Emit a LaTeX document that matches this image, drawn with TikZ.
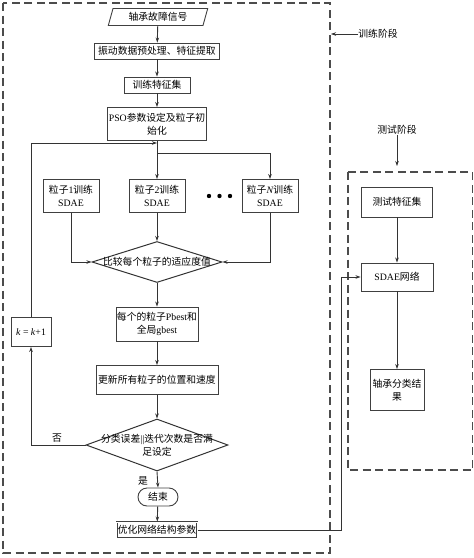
\documentclass[tikz,border=0pt]{standalone}
\usepackage{fontspec}
\setmainfont{Liberation Serif}
\newfontfamily\cjk{Noto Sans CJK SC}
\newfontfamily\enfont{Liberation Serif}
\newcommand{\en}[1]{{\enfont #1}}
\usetikzlibrary{positioning, calc, arrows.meta, shapes.geometric}

\tikzset{
    flowbox/.style={draw=black!75, line width=0.9pt, fill=white, inner sep=1pt, align=center,
        font=\cjk\fontsize{9.8}{13}\selectfont},
    dec/.style={diamond, draw=black!80, line width=1pt, inner sep=0pt},
    iobox/.style={flowbox, trapezium, trapezium left angle=74, trapezium right angle=106, trapezium stretches=true},
    termbox/.style={flowbox, rounded corners=9pt},
    txt/.style={font=\cjk\fontsize{9.8}{13}\selectfont, align=center, inner sep=0pt},
    arr/.style={-{Stealth[length=5pt,width=3.5pt]}, line width=0.9pt, draw=black!80},
    phase/.style={draw=black!70, dash pattern=on 8pt off 4.5pt, line width=1.2pt}
}

\begin{document}
\begin{tikzpicture}[x=1pt, y=-1pt]
    \useasboundingbox (0,0) rectangle (474,558);

    % training phase
    \draw[phase] (3,3) rectangle (330,553);
    \node[txt] (trainlbl) at (378,34) {训练阶段};
    \draw[arr, line width=0.6pt] (trainlbl.west) -- (331,34);

    \node[iobox, minimum width=100pt, minimum height=17pt] (sig) at (158,17) {轴承故障信号};
    \node[flowbox, minimum width=125pt, minimum height=16pt] (pre) at (157,51) {振动数据预处理、特征提取};
    \node[flowbox, minimum width=66pt, minimum height=16pt] (feat) at (157,85) {训练特征集};
    \node[flowbox, minimum width=99pt, minimum height=33pt] (pso) at (157,124) {\en{PSO}参数设定及粒子初\\始化};

    \node[flowbox, minimum width=56pt, minimum height=33pt] (p1) at (71,196) {粒子\en{1}训练\\\en{SDAE}};
    \node[flowbox, minimum width=56pt, minimum height=33pt] (p2) at (157,196) {粒子\en{2}训练\\\en{SDAE}};
    \node[flowbox, minimum width=56pt, minimum height=33pt] (pN) at (270,196) {粒子\en{\textit{N}}训练\\\en{SDAE}};
    \foreach \dx in {209,219.5,230}
        \fill (\dx,196) circle (2.2pt);

    \node[dec, minimum width=130pt, minimum height=41pt] (cmp) at (157,262) {};
    \node[txt] (cmptxt) at (cmp.center) {比较每个粒子的适应度值};

    \node[flowbox, minimum width=82pt, minimum height=34pt] (best) at (157,324) {每个的粒子\en{Pbest}和\\全局\en{gbest}};
    \node[flowbox, minimum width=122pt, minimum height=29pt] (upd) at (157,380) {更新所有粒子的位置和速度};

    \node[dec, minimum width=142pt, minimum height=52pt] (chk) at (157,445) {};
    \node[txt] (chktxt) at (chk.center) {分类误差\en{||}迭代次数是否满\\足设定};

    \node[termbox, minimum width=40pt, minimum height=18pt] (fin) at (158,497) {结束};
    \node[flowbox, double, double distance=0.7pt, minimum width=80pt, minimum height=16pt] (opt) at (157,530) {优化网络结构参数};

    \node[flowbox, minimum width=40pt, minimum height=29pt] (kbox) at (31,332) {\en{\textit{k} = \textit{k}+1}};

    \coordinate (loopin) at (157,143);
    \coordinate (split) at (157,153);

    \draw[arr] (sig) -- (pre);
    \draw[arr] (pre) -- (feat);
    \draw[arr] (feat) -- (pso);
    \draw[arr] (pso) -- (p2);
    \draw[arr] (split) -| (pN.north);
    \draw[arr] (p1.south) |- (cmp.west);
    \draw[arr] (p2) -- (cmp);
    \draw[arr] (pN.south) |- (cmp.east);
    \draw[arr] (cmp) -- (best);
    \draw[arr] (best) -- (upd);
    \draw[arr] (upd) -- (chk);
    \draw[arr] (chk.west) -| (kbox.south);
    \draw[arr] (kbox.north) |- (loopin);
    \draw[arr] (chk.south) -- (fin.north);
    \draw[arr] (fin) -- (opt);
    \node[txt] (no) at (57,438) {否};
    \node[txt] (yes) at (143,481) {是};

    % testing phase
    \draw[phase] (348,172) rectangle (472.5,470);
    \node[txt] (testlbl) at (397,130) {测试阶段};
    \coordinate (testin) at (397,166);
    \draw[arr, line width=0.6pt] (testlbl.south) -- (testin);

    \node[flowbox, minimum width=71pt, minimum height=30pt] (tfeat) at (397,202) {测试特征集};
    \node[flowbox, minimum width=72pt, minimum height=28pt] (net) at (397,277) {\en{SDAE}网络};
    \node[flowbox, minimum width=54pt, minimum height=41pt] (res) at (397,390) {轴承分类结\\果};

    \draw[arr] (tfeat) -- (net);
    \draw[arr] (net) -- (res);
    \draw[arr] (opt.east) -- (341,530) |- (net.west);
\end{tikzpicture}
\end{document}
